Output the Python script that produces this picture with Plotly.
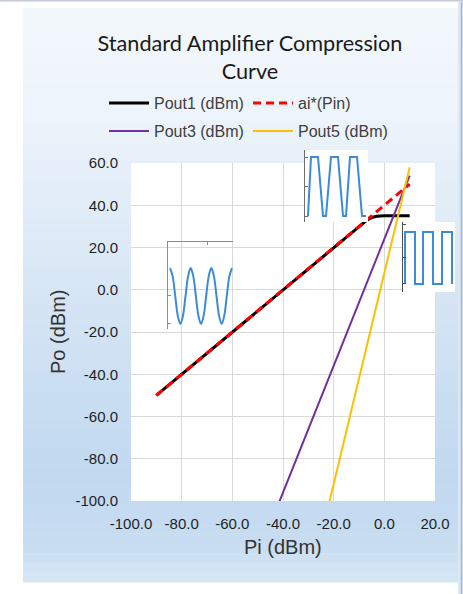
import plotly.graph_objects as go

W, H = 463, 594

# main curves (dBm)
pin1 = [-90, -80, -70, -60, -50, -40, -30, -20, -10, -7, -5, -3, 0, 5, 10]
pout1 = [-50, -40, -30, -20, -10, 0, 10, 20, 30, 32.8, 34.2, 34.8, 35, 35, 35]

pin_lin = [-90, -80, -70, -60, -50, -40, -30, -20, -10, 0, 10]
ai_pin = [-50, -40, -30, -20, -10, 0, 10, 20, 30, 40, 50]

pin3 = [-50, -40, -30, -20, -10, 0, 10]
pout3 = [-126, -96, -66, -36, -6, 24, 54]

pin5 = [-30, -20, -10, 0, 10]
pout5 = [-142, -92, -42, 8, 58]

# inset waveforms
sine_t = [0, 0.125, 0.25, 0.375, 0.5, 0.625, 0.75, 0.875, 1,
          1.125, 1.25, 1.375, 1.5, 1.625, 1.75, 1.875, 2,
          2.125, 2.25, 2.375, 2.5, 2.625, 2.75, 2.875, 3]
sine_v = [1, 0.71, 0, -0.71, -1, -0.71, 0, 0.71, 1,
          0.71, 0, -0.71, -1, -0.71, 0, 0.71, 1,
          0.71, 0, -0.71, -1, -0.71, 0, 0.71, 1]

clip_t = [0, 3, 10, 15, 18, 23, 30, 35, 38, 42, 49, 54, 58]
clip_v = [-1, 1, 1, -1, -1, 1, 1, -1, -1, 1, 1, -1, -1]

sq_t = [0, 0, 10, 10, 18, 18, 28, 28, 37, 37, 47, 47]
sq_v = [-1, 1, 1, -1, -1, 1, 1, -1, -1, 1, 1, -1]

xticks = [-100, -80, -60, -40, -20, 0, 20]
xlabels = ["-100.0", "-80.0", "-60.0", "-40.0", "-20.0", "0.0", "20.0"]
yticks = [-100, -80, -60, -40, -20, 0, 20, 40, 60]
ylabels = ["-100.0", "-80.0", "-60.0", "-40.0", "-20.0", "0.0", "20.0", "40.0", "60.0"]


def fx(p):
    return p / W


def fy(p):
    return 1 - p / H


fig = go.Figure()

fig.add_trace(go.Scatter(x=pin1, y=pout1, mode="lines", name="Pout1 (dBm)",
                         line=dict(color="#000000", width=3), legend="legend"))
fig.add_trace(go.Scatter(x=pin_lin, y=ai_pin, mode="lines", name="ai*(Pin)",
                         line=dict(color="#ff0000", width=3, dash="8px,5px"), legend="legend"))
fig.add_trace(go.Scatter(x=pin3, y=pout3, mode="lines", name="Pout3 (dBm)",
                         line=dict(color="#7030a0", width=2), legend="legend2"))
fig.add_trace(go.Scatter(x=pin5, y=pout5, mode="lines", name="Pout5 (dBm)",
                         line=dict(color="#ffc000", width=2), legend="legend2"))

wave = dict(color="#3b8bd6", width=2)
fig.add_trace(go.Scatter(x=sine_t, y=sine_v, mode="lines", line=dict(wave, shape="spline"),
                         xaxis="x2", yaxis="y2", showlegend=False, hoverinfo="skip"))
fig.add_trace(go.Scatter(x=clip_t, y=clip_v, mode="lines", line=wave,
                         xaxis="x3", yaxis="y3", showlegend=False, hoverinfo="skip"))
fig.add_trace(go.Scatter(x=sq_t, y=sq_v, mode="lines", line=wave,
                         xaxis="x4", yaxis="y4", showlegend=False, hoverinfo="skip"))

# background: vertical gradient in the chart box
stops = [(8, (243, 248, 252)), (120, (236, 243, 251)), (250, (220, 233, 246)),
         (380, (204, 223, 242)), (470, (194, 217, 240)), (540, (199, 220, 241)),
         (582, (215, 231, 246))]
shapes = []
nb = 60
for i in range(nb):
    a = 8 + (582 - 8) * i / nb
    b = 8 + (582 - 8) * (i + 1) / nb
    m = (a + b) / 2
    for j in range(len(stops) - 1):
        if stops[j][0] <= m <= stops[j + 1][0]:
            f = (m - stops[j][0]) / (stops[j + 1][0] - stops[j][0])
            c = [round(stops[j][1][k] + f * (stops[j + 1][1][k] - stops[j][1][k])) for k in range(3)]
            break
    shapes.append(dict(type="rect", xref="paper", yref="paper", layer="below",
                       x0=fx(23), x1=fx(458), y0=fy(b + 0.5), y1=fy(a),
                       fillcolor="rgb(%d,%d,%d)" % tuple(c), line_width=0))
shapes.append(dict(type="rect", xref="paper", yref="paper", layer="below",
                   x0=0, x1=1, y0=fy(1.5), y1=1, fillcolor="#c3cad5", line_width=0))
shapes.append(dict(type="rect", xref="paper", yref="paper", layer="below",
                   x0=fx(458), x1=1, y0=0, y1=fy(1.5), fillcolor="#dbe7f3", line_width=0))
shapes.append(dict(type="line", xref="paper", yref="paper", layer="below",
                   x0=fx(461.5), x1=fx(461.5), y0=0, y1=fy(1.5), line=dict(color="#a9b8ca", width=1.5)))
# plot area
shapes.append(dict(type="rect", xref="paper", yref="paper", layer="below",
                   x0=fx(131), x1=fx(435), y0=fy(501), y1=fy(163), fillcolor="white", line_width=0))
# inset backgrounds (clipped sine and square)
shapes.append(dict(type="rect", xref="x3", yref="y3", layer="below",
                   x0=-10, x1=80, y0=-3, y1=3, fillcolor="white", line_width=0))
shapes.append(dict(type="rect", xref="x4", yref="y4", layer="below",
                   x0=-10, x1=80, y0=-3, y1=3, fillcolor="white", line_width=0))

tickfont = dict(family="Liberation Sans, Arial", size=15, color="#1f1f1f")
inset_ax = dict(showgrid=False, zeroline=False, showticklabels=False, showline=True,
                ticks="inside", ticklen=3, automargin=False)
legfont = dict(family="Liberation Sans, Arial", size=16, color="#404040")

fig.update_layout(
    width=W, height=H,
    margin=dict(l=0, r=0, t=0, b=0),
    paper_bgcolor="white",
    plot_bgcolor="rgba(0,0,0,0)",
    shapes=shapes,
    title=dict(text="Standard Amplifier Compression<br>Curve",
               x=fx(250), xanchor="center", xref="paper",
               y=fy(51), yanchor="middle", yref="paper",
               font=dict(family="Lato", size=21.7, color="#1a1a1a")),
    xaxis=dict(domain=[fx(131), fx(435)], range=[-100, 20], tickvals=xticks, ticktext=xlabels,
               showgrid=True, gridcolor="#d9d9d9", gridwidth=1,
               zeroline=False, showline=False, ticks="", ticklabelstandoff=12,
               tickfont=tickfont, automargin=False, fixedrange=True),
    yaxis=dict(domain=[fy(501), fy(163)], range=[-100, 60], tickvals=yticks, ticktext=ylabels,
               showgrid=True, gridcolor="#d9d9d9", gridwidth=1,
               zeroline=False, showline=False, ticks="", ticklabelstandoff=12,
               tickfont=tickfont, automargin=False, fixedrange=True),
    xaxis2=dict(inset_ax, domain=[fx(168), fx(233)], range=[-0.1, 3.05], anchor="y2",
                side="top", linecolor="#8c8c8c", tickcolor="#8c8c8c", tickvals=[1.8]),
    yaxis2=dict(inset_ax, domain=[fy(329), fy(242)], range=[-1.18, 1.93], anchor="x2",
                linecolor="#8c8c8c", tickcolor="#8c8c8c", tickvals=[-1, 0]),
    xaxis3=dict(inset_ax, domain=[fx(305), fx(368)], range=[-3, 60], anchor="y3",
                showline=False, ticks=""),
    yaxis3=dict(inset_ax, domain=[fy(222), fy(150)], range=[-1.2, 1.24], anchor="x3",
                linecolor="#6e6e6e", tickcolor="#6e6e6e", tickvals=[-1, 0, 1]),
    xaxis4=dict(inset_ax, domain=[fx(403), fx(455)], range=[-2, 50], anchor="y4",
                showline=False, ticks=""),
    yaxis4=dict(inset_ax, domain=[fy(292), fy(222)], range=[-1.31, 1.38], anchor="x4",
                linecolor="#4d4d4d", tickcolor="#4d4d4d", tickvals=[-1, 0, 1.27]),
    legend=dict(orientation="h", x=fx(104), xanchor="left", y=fy(103), yanchor="middle",
                font=legfont, bgcolor="rgba(0,0,0,0)", itemwidth=40, entrywidth=89,
                traceorder="normal"),
    legend2=dict(orientation="h", x=fx(104), xanchor="left", y=fy(131), yanchor="middle",
                 font=legfont, bgcolor="rgba(0,0,0,0)", itemwidth=40, entrywidth=89,
                 traceorder="normal"),
    annotations=[
        dict(text="Pi (dBm)", xref="paper", yref="paper", x=fx(283), y=fy(547),
             xanchor="center", yanchor="middle", showarrow=False,
             font=dict(family="Liberation Sans, Arial", size=20, color="#333333")),
        dict(text="Po (dBm)", xref="paper", yref="paper", x=fx(58), y=fy(332),
             xanchor="center", yanchor="middle", showarrow=False, textangle=-90,
             font=dict(family="Liberation Sans, Arial", size=20, color="#333333")),
    ],
    showlegend=True,
)

fig.write_html("out.html", config={"displayModeBar": False},
               post_script="document.body.style.margin='0';")
